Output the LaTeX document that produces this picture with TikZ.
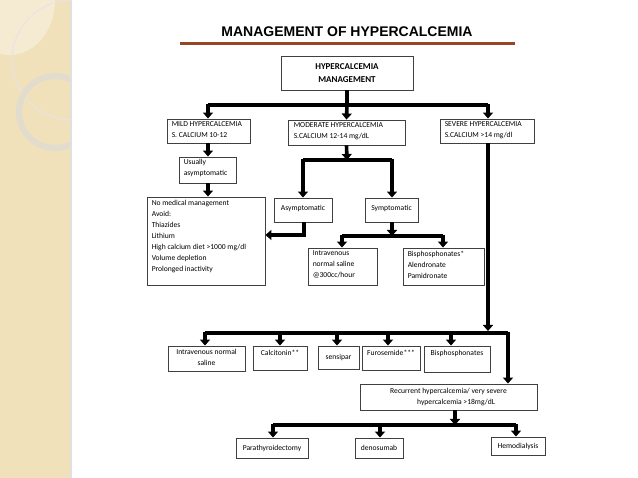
\documentclass[tikz,border=0pt]{standalone}
\usepackage{fontspec}
\setmainfont{Carlito}
\newfontfamily\titlefont{Liberation Sans}
\usetikzlibrary{arrows.meta,fit,calc}
\definecolor{tan}{RGB}{241,225,186}
\definecolor{rulebrown}{RGB}{150,70,35}
\definecolor{ringgray}{RGB}{225,220,205}
\tikzset{
  box/.style={draw=black!75,line width=0.9pt,inner sep=0pt},
  txt/.style={font=\fontsize{7.6}{11}\selectfont,align=left,inner sep=0pt,anchor=north west},
  ctxt/.style={font=\fontsize{7.6}{11}\selectfont,align=center,inner sep=0pt},
  arr/.style={line width=3.6pt,-{Triangle[width=10pt,length=6pt]}},
  ln/.style={line width=3.6pt}
}
\begin{document}
\begin{tikzpicture}[x=1pt,y=-1pt]
\useasboundingbox (0,0) rectangle (638,478);
% side panel
\fill[tan] (0,0) rectangle (70,478);
\fill[black!12] (70,0) rectangle (72,478);
\begin{scope}
\clip (0,0) rectangle (70,478);
\fill[white,opacity=0.35] (10,0) ellipse (45 and 55);
\draw[white!80!gray,line width=1pt] (72,60) circle (60);
\draw[ringgray,line width=6pt] (55,112) circle (36);
\end{scope}
% title
\node[font=\titlefont\bfseries\fontsize{14}{16}\selectfont] (title) at (347,32) {MANAGEMENT OF HYPERCALCEMIA};
\draw[rulebrown,line width=3pt] (180,44) -- (515,44);
% boxes
\node[box,fit={(281,56)(413,90)}] (top) {};
\node[font=\fontsize{9}{13}\selectfont\bfseries,align=center] at (top.center) {HYPERCALCEMIA\\MANAGEMENT};
\node[box,fit={(167,119)(250,143)}] (mild) {};
\node[txt] at ($(mild.north west)+(5,3)$) {MILD HYPERCALCEMIA\\S. CALCIUM 10-12};
\node[box,fit={(288,120)(405,145)}] (mod) {};
\node[txt] at ($(mod.north west)+(6,3)$) {MODERATE HYPERCALCEMIA\\S.CALCIUM 12-14 mg/dL};
\node[box,fit={(440,119)(534,143)}] (sev) {};
\node[txt] at ($(sev.north west)+(5,3)$) {SEVERE HYPERCALCEMIA\\S.CALCIUM >14 mg/dl};
\node[box,fit={(179,157)(236,183)}] (usu) {};
\node[txt] at ($(usu.north west)+(5,2)$) {Usually\\asymptomatic};
\node[box,fit={(147,197)(265,285)}] (nomed) {};
\node[txt] at ($(nomed.north west)+(5,3)$) {No medical management\\Avoid:\\Thiazides\\Lithium\\High calcium diet >1000 mg/dl\\Volume depletion\\Prolonged inactivity};
\node[box,fit={(274,198)(332,222)}] (asym) {};
\node[ctxt] at ($(asym.center)+(0,-2)$) {Asymptomatic};
\node[box,fit={(365,198)(418,222)}] (sym) {};
\node[ctxt] at ($(sym.center)+(0,-2)$) {Symptomatic};
\node[box,fit={(308,248)(377,285)}] (iv) {};
\node[txt] at ($(iv.north west)+(5,3)$) {Intravenous\\normal saline\\@300cc/hour};
\node[box,fit={(403,248)(484,285)}] (bis) {};
\node[txt] at ($(bis.north west)+(5,3)$) {Bisphosphonates*\\Alendronate\\Pamidronate};
% bottom rows
\node[box,fit={(168,346)(245,371)}] (ivn) {};
\node[ctxt,anchor=north] at ($(ivn.north)+(0,3)$) {Intravenous normal\\saline};
\node[box,fit={(253,346)(307,370)}] (cal) {};
\node[ctxt,anchor=north] at ($(cal.north)+(0,4)$) {Calcitonin**};
\node[box,fit={(318,346)(359,369)}] (sen) {};
\node[ctxt] at (sen.center) {sensipar};
\node[box,fit={(362,346)(420,370)}] (fur) {};
\node[ctxt,anchor=north] at ($(fur.north)+(0,4)$) {Furosemide***};
\node[box,fit={(424,346)(490,372)}] (bp) {};
\node[ctxt,anchor=north] at ($(bp.north)+(0,4)$) {Bisphosphonates};
\node[box,fit={(360,384)(537,410)}] (rec) {};
\node[ctxt] at (rec.center) {Recurrent hypercalcemia/ very severe\\\hspace*{2em}hypercalcemia >18mg/dL};
\node[box,fit={(236,438)(308,458)}] (para) {};
\node[ctxt] at (para.center) {Parathyroidectomy};
\node[box,fit={(355,438)(403,458)}] (den) {};
\node[ctxt] at (den.center) {denosumab};
\node[box,fit={(491,437)(545,455)}] (hemo) {};
\node[ctxt] at (hemo.center) {Hemodialysis};
% connectors
\coordinate (j1) at (347,105);
\draw[ln] (top.south) -- (j1);
\draw[ln] (208,105) -- (488,105);
\draw[arr] (j1) -- (mod.north);
\draw[arr] (208,104) -- (mild.north -| 208,0);
\draw[arr] (488,104) -- (sev.north -| 488,0);
\draw[arr] (mild.south -| 208,0) -- (usu.north -| 208,0);
\draw[arr] (usu.south -| 208,0) -- (nomed.north -| 208,0);
\coordinate (j2) at (347,160);
\draw[arr] (mod.south) -- (j2);
\draw[ln] (303,160) -- (392,160);
\draw[arr] (303,159) -- (asym.north -| 303,0);
\draw[arr] (392,159) -- (sym.north -| 392,0);
\draw[arr] (asym.south -| 304,0) -- (304,235) -- (nomed.east |- 0,235);
\coordinate (j3) at (392,236);
\draw[arr] (sym.south -| 392,0) -- (j3);
\draw[ln] (342,236) -- (443,236);
\draw[arr] (342,235) -- (iv.north -| 342,0);
\draw[arr] (443,235) -- (bis.north -| 443,0);
\draw[arr] (sev.south -| 488,0) -- (488,331);
\draw[ln] (205,333) -- (508,333);
\draw[arr] (205,332) -- (ivn.north -| 205,0);
\draw[arr] (280,332) -- (cal.north -| 280,0);
\draw[arr] (337,332) -- (sen.north -| 337,0);
\draw[arr] (388,332) -- (fur.north -| 388,0);
\draw[arr] (451,332) -- (bp.north -| 451,0);
\draw[arr] (508,332) -- (rec.north -| 508,0);
\coordinate (j5) at (455,425);
\draw[arr] (rec.south -| 455,0) -- (j5);
\draw[ln] (273,425) -- (516,425);
\draw[arr] (273,424) -- (para.north -| 273,0);
\draw[arr] (380,424) -- (den.north -| 380,0);
\draw[arr] (516,424) -- (hemo.north -| 516,0);
\end{tikzpicture}
\end{document}
